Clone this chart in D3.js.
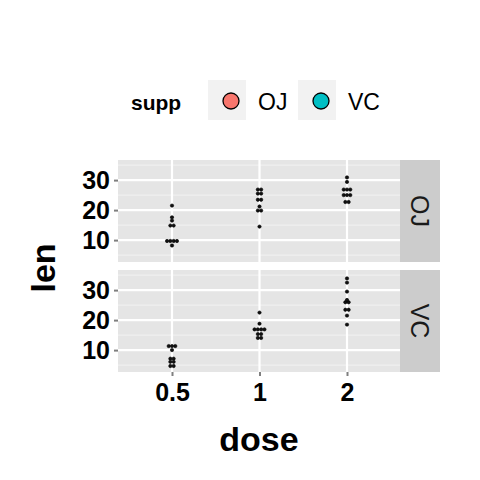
<!DOCTYPE html><html><head><script src="https://d3js.org/d3.v7.min.js"></script>
<style>body{margin:0;background:#fff}text{font-family:"Liberation Sans",Arial,sans-serif}</style></head><body><svg width="480" height="480"></svg>
<script>
const doses=["0.5","1","2"];
const supps=["OJ","VC"];
const ojLen={"0.5":[15.2,21.5,17.6,9.7,14.5,10,8.2,9.4,16.5,9.7],"1":[19.7,23.3,23.6,26.4,20,25.2,25.8,21.2,14.5,27.3],"2":[25.5,26.4,22.4,24.5,24.8,30.9,26.4,27.3,29.4,23]};
const vcLen={"0.5":[4.2,11.5,7.3,5.8,6.4,10,11.2,11.2,5.2,7],"1":[16.5,16.5,15.2,17.3,22.5,17.3,13.6,14.5,18.8,15.5],"2":[23.6,18.5,33.9,25.5,26.4,32.5,26.7,21.5,23.3,29.5]};
const yTicks=[10,20,30];
const colors={OJ:"#F8766D",VC:"#00BFC4"};
const svg=d3.select("svg");
const x=d3.scalePoint().domain(doses).range([172,347]);
const L=118,R=400,binw=1.1;
const panels=[{s:"OJ",data:ojLen,top:160,bot:262},{s:"VC",data:vcLen,top:270,bot:372}];
panels.forEach(p=>{
  const y=d3.scaleLinear().domain([2.7,36.7]).range([p.bot,p.top]);
  svg.append("rect").attr("x",L).attr("y",p.top).attr("width",R-L).attr("height",p.bot-p.top).attr("fill","#E5E5E5");
  [5,15,25,35].forEach(v=>svg.append("line").attr("x1",L).attr("x2",R).attr("y1",y(v)).attr("y2",y(v)).attr("stroke","#F2F2F2").attr("stroke-width",1));
  yTicks.forEach(v=>svg.append("line").attr("x1",L).attr("x2",R).attr("y1",y(v)).attr("y2",y(v)).attr("stroke","#fff").attr("stroke-width",2.2));
  doses.forEach(d=>svg.append("line").attr("x1",x(d)).attr("x2",x(d)).attr("y1",p.top).attr("y2",p.bot).attr("stroke","#fff").attr("stroke-width",2.2));
  const ax=svg.append("g").attr("transform",`translate(${L},0)`).call(d3.axisLeft(y).tickValues(yTicks).tickSize(4).tickPadding(4));
  ax.select(".domain").remove();
  ax.selectAll(".tick line").attr("stroke","#7f7f7f").attr("stroke-width",2);
  ax.selectAll("text").attr("font-size",25).attr("font-weight","bold").attr("fill","#000");
  svg.append("rect").attr("x",R).attr("y",p.top).attr("width",40).attr("height",p.bot-p.top).attr("fill","#CCCCCC");
  svg.append("text").attr("transform",`translate(${R+20},${(p.top+p.bot)/2}) rotate(90)`).attr("text-anchor","middle").attr("dy","0.35em").attr("font-size",25).attr("fill","#1a1a1a").text(p.s);
  const r=Math.abs(y(0)-y(binw))/2;
  doses.forEach(d=>{
    const vals=p.data[d].slice().sort((a,b)=>a-b);
    const bins=[];let cur=null;
    vals.forEach(v=>{if(cur&&v<cur.start+binw){cur.vals.push(v);}else{cur={start:v,vals:[v]};bins.push(cur);}});
    bins.forEach(b=>{
      const c=(b.vals[0]+b.vals[b.vals.length-1])/2,n=b.vals.length;
      b.vals.forEach((v,i)=>{
        svg.append("circle").attr("cx",x(d)+(i-(n-1)/2)*2*r).attr("cy",y(c)).attr("r",r).attr("fill","#111").attr("stroke","#000").attr("stroke-width",0.6);
      });
    });
  });
});
const xa=svg.append("g").attr("transform","translate(0,372)").call(d3.axisBottom(x).tickSize(4).tickPadding(6));
xa.select(".domain").remove();
xa.selectAll(".tick line").attr("stroke","#7f7f7f").attr("stroke-width",2);
xa.selectAll("text").attr("font-size",25).attr("font-weight","bold").attr("fill","#000").attr("dy","0.75em");
svg.append("text").attr("x",259).attr("y",451).attr("text-anchor","middle").attr("font-size",34).attr("font-weight","bold").text("dose");
svg.append("text").attr("transform","translate(55,268) rotate(-90)").attr("text-anchor","middle").attr("font-size",34).attr("font-weight","bold").text("len");
svg.append("text").attr("x",131).attr("y",110).attr("font-size",21).attr("font-weight","bold").text("supp");
supps.forEach((s,i)=>{
  const kx=208+i*90;
  svg.append("rect").attr("x",kx).attr("y",80).attr("width",38).attr("height",40).attr("fill","#F2F2F2");
  svg.append("circle").attr("cx",kx+23).attr("cy",101).attr("r",8).attr("fill",colors[s]).attr("stroke","#000").attr("stroke-width",1.3);
  svg.append("text").attr("x",kx+50).attr("y",110).attr("font-size",23).text(s);
});
</script></body></html>
